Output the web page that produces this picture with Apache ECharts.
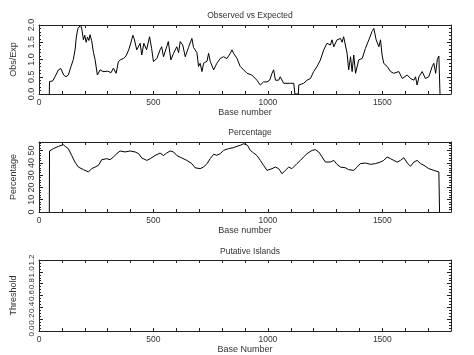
<!DOCTYPE html>
<html>
<head>
<meta charset="utf-8">
<script src="https://cdn.jsdelivr.net/npm/echarts@6/dist/echarts.min.js"></script>
<style>
  body { margin: 0; background: #fff; }
  #chart { width: 474px; height: 355px; }
</style>
</head>
<body>
<div id="chart"></div>
<script>
// observed vs expected
var obsBase = [45, 46, 60, 70, 85, 95, 100, 108, 118, 128, 140, 150, 158, 163, 170, 176, 182, 188, 194, 200,
  206, 212, 218, 223, 230, 238, 245, 255, 267, 280, 300, 315, 325, 337, 347, 358, 369, 380, 392, 402,
  410, 416, 427, 442, 449, 458, 470, 483, 492, 500, 515, 529, 536, 544, 558, 565, 576, 588, 602, 610,
  617, 628, 639, 653, 668, 675, 690, 697, 704, 712, 719, 734, 741, 748, 763, 777, 792, 806, 821, 836,
  843, 850, 865, 879, 894, 909, 930, 952, 967, 981, 996, 1008, 1018, 1025, 1033, 1047, 1054, 1069, 1098, 1113,
  1118, 1133, 1135, 1156, 1171, 1186, 1200, 1215, 1229, 1244, 1258, 1273, 1280, 1288, 1302, 1317, 1324, 1331, 1346, 1353,
  1361, 1368, 1375, 1383, 1397, 1412, 1426, 1441, 1455, 1463, 1473, 1485, 1492, 1499, 1506, 1521, 1536, 1550, 1572, 1587,
  1609, 1623, 1638, 1645, 1652, 1660, 1674, 1688, 1703, 1718, 1725, 1733, 1740, 1747, 1751, 1752];
var obsVals = [0, 0.36, 0.38, 0.5, 0.7, 0.74, 0.7, 0.55, 0.5, 0.55, 0.8, 1.0, 1.3, 1.65, 1.9, 1.85, 2.0, 1.85, 1.57, 1.7,
  1.5, 1.65, 1.55, 1.72, 1.55, 1.2, 1.0, 0.55, 0.7, 0.65, 0.66, 0.62, 0.75, 0.6, 0.94, 1.0, 1.03, 1.1, 1.28, 1.5,
  1.7, 1.6, 1.28, 1.47, 1.13, 1.47, 1.28, 1.66, 1.32, 0.94, 1.03, 1.28, 1.37, 1.08, 1.37, 1.52, 0.99, 1.18, 1.37, 1.2,
  1.52, 1.42, 1.08, 1.35, 1.61, 1.35, 1.2, 0.8, 0.89, 0.65, 0.89, 0.95, 1.18, 0.95, 0.7, 0.89, 1.03, 1.08, 1.03, 1.18,
  1.28, 1.18, 1.03, 0.8, 0.7, 0.6, 0.55, 0.4, 0.26, 0.35, 0.35, 0.4, 0.6, 0.7, 0.4, 0.4, 0.5, 0.31, 0.31, 0.31,
  0, 0, 0.26, 0.31, 0.4, 0.45, 0.65, 0.8, 0.98, 1.28, 1.47, 1.42, 1.57, 1.37, 1.57, 1.61, 1.5, 1.66, 1.18, 0.7,
  1.08, 0.65, 1.13, 0.6, 0.99, 1.03, 1.32, 1.57, 1.81, 1.9, 1.57, 1.37, 1.57, 1.13, 0.89, 0.8, 0.65, 0.6, 0.65, 0.45,
  0.55, 0.45, 0.4, 0.5, 0.26, 0.5, 0.65, 0.45, 0.5, 0.8, 0.89, 0.6, 1.0, 1.1, 1.12, 0];

// percentage
var pctBase = [45, 46, 63, 85, 106, 115, 128, 143, 157, 172, 194, 216, 230, 245, 260, 274, 296, 311, 325, 340,
  354, 376, 398, 420, 435, 449, 471, 486, 507, 529, 544, 558, 573, 588, 602, 624, 646, 668, 682, 704,
  719, 734, 748, 763, 777, 792, 806, 828, 850, 865, 879, 894, 901, 911, 923, 938, 952, 967, 981, 996,
  1003, 1018, 1033, 1047, 1062, 1076, 1091, 1105, 1127, 1142, 1156, 1171, 1193, 1207, 1222, 1237, 1251, 1273, 1288, 1302,
  1317, 1339, 1353, 1375, 1390, 1404, 1426, 1448, 1470, 1492, 1506, 1521, 1536, 1550, 1565, 1579, 1594, 1609, 1623, 1638,
  1652, 1667, 1682, 1703, 1725, 1747, 1750];
var pctVals = [0, 49.7, 51.6, 53.5, 54.8, 53.4, 51.6, 46, 40.7, 36.6, 34.5, 32.6, 35.3, 36.6, 38, 42.6, 43.4, 42.6, 44.8, 47.5,
  49.7, 48.9, 49.7, 48.9, 47.5, 44, 42, 43.4, 46, 48, 46, 48, 49.7, 48.9, 46, 44, 42, 39.4, 36, 35.3,
  36.6, 39.4, 43.4, 47, 46.2, 47.5, 50.2, 51.6, 52.4, 53.5, 54.3, 55.6, 57, 54.3, 50.2, 48, 46, 42, 38, 33.9,
  32.6, 35.3, 36.6, 35.3, 31.2, 33.9, 36.6, 35.3, 39.4, 42, 44.8, 47.5, 50.2, 50.8, 48.9, 44.8, 40.7, 40.7, 42, 38.8,
  36.6, 36, 34.5, 33.9, 36.6, 39.4, 39.9, 38.8, 39.4, 40.7, 42, 44.8, 43.4, 42, 40.7, 42, 44.2, 39.9, 37.2, 40.7,
  42, 39.4, 38, 35.3, 33.9, 32.6, 0];

var baseTicks = [0, 500, 1000, 1500];

function pairs(xs, ys) {
  var out = [];
  for (var i = 0; i < xs.length; i++) out.push([xs[i], ys[i]]);
  return out;
}

var txt = { color: '#333', fontSize: 8.5, fontFamily: 'Liberation Sans' };
var frame = { color: '#222', width: 1 };

function bottomAxis(g, name) {
  return {
    type: 'value', gridIndex: g, min: 0, max: 1800, interval: 100,
    name: name, nameLocation: 'middle', nameGap: 13,
    nameTextStyle: { color: '#333', fontSize: 9, fontFamily: 'Liberation Sans' },
    axisLine: { onZero: false, lineStyle: frame },
    axisTick: { inside: true, length: 3, lineStyle: frame },
    splitLine: { show: false },
    axisLabel: Object.assign({ margin: 4, showMaxLabel: false, formatter: function (v) {
      return baseTicks.indexOf(v) >= 0 ? String(v) : '';
    } }, txt)
  };
}
function topAxis(g) {
  return {
    type: 'value', gridIndex: g, position: 'top', min: 0, max: 1800, interval: 100,
    axisLine: { onZero: false, lineStyle: frame },
    axisTick: { inside: true, length: 3, lineStyle: frame },
    splitLine: { show: false }, axisLabel: { show: false }
  };
}
function leftAxis(g, name, max, step, minors, digits) {
  var onStep = Math.abs(step * Math.round(max / step) - max) < 1e-9;
  return {
    type: 'value', gridIndex: g, position: 'left', min: 0, max: max, interval: step,
    name: name, nameLocation: 'middle', nameGap: 21,
    nameTextStyle: { color: '#333', fontSize: 9, fontFamily: 'Liberation Sans' },
    axisLine: { show: true, onZero: false, lineStyle: frame },
    axisTick: { inside: true, length: 4, lineStyle: frame },
    minorTick: { show: true, splitNumber: minors, length: 2, lineStyle: frame },
    splitLine: { show: false },
    axisLabel: Object.assign({ rotate: 90, margin: 3, hideOverlap: false, showMinLabel: true, showMaxLabel: onStep,
      formatter: function (v) { return v.toFixed(digits); } }, txt, { fontSize: 9 })
  };
}
function rightAxis(g, max, step, minors) {
  return {
    type: 'value', gridIndex: g, position: 'right', min: 0, max: max, interval: step,
    axisLine: { show: true, onZero: false, lineStyle: frame },
    axisTick: { inside: true, length: 4, lineStyle: frame },
    minorTick: { show: true, splitNumber: minors, length: 2, lineStyle: frame },
    splitLine: { show: false }, axisLabel: { show: false }
  };
}

var threshAxis = leftAxis(2, 'Threshold', 1.2, 0.2, 4, 1);
threshAxis.axisLabel.fontSize = 8;
threshAxis.axisLabel.interval = 0;

var myChart = echarts.init(document.getElementById('chart'));
var option = {
  animation: false,
  backgroundColor: '#fff',
  title: [
    { text: 'Observed vs Expected', left: 245, top: 6, textAlign: 'center', textStyle: { color: '#333', fontSize: 8.5, fontWeight: 'normal', fontFamily: 'Liberation Sans' } },
    { text: 'Percentage', left: 245, top: 123, textAlign: 'center', textStyle: { color: '#333', fontSize: 8.5, fontWeight: 'normal', fontFamily: 'Liberation Sans' } },
    { text: 'Putative Islands', left: 245, top: 242, textAlign: 'center', textStyle: { color: '#333', fontSize: 8.5, fontWeight: 'normal', fontFamily: 'Liberation Sans' } }
  ],
  grid: [
    { left: 39, right: 23, top: 25, height: 69 },
    { left: 39, right: 23, top: 142, height: 70 },
    { left: 39, right: 23, top: 260, height: 71 }
  ],
  xAxis: [
    bottomAxis(0, 'Base number'), topAxis(0),
    bottomAxis(1, 'Base number'), topAxis(1),
    bottomAxis(2, 'Base Number'), topAxis(2)
  ],
  yAxis: [
    leftAxis(0, 'Obs/Exp', 2, 0.5, 5, 1), rightAxis(0, 2, 0.5, 5),
    leftAxis(1, 'Percentage', 57, 10, 5, 0), rightAxis(1, 57, 10, 5),
    threshAxis, rightAxis(2, 1.2, 0.2, 4)
  ],
  series: [
    {
      name: 'Obs/Exp', type: 'line', xAxisIndex: 0, yAxisIndex: 0,
      data: pairs(obsBase, obsVals), showSymbol: false,
      lineStyle: { color: '#000', width: 1 }
    },
    {
      name: 'Percentage', type: 'line', xAxisIndex: 2, yAxisIndex: 2,
      data: pairs(pctBase, pctVals), showSymbol: false,
      lineStyle: { color: '#000', width: 1 }
    }
  ]
};
myChart.setOption(option);
</script>
</body>
</html>
